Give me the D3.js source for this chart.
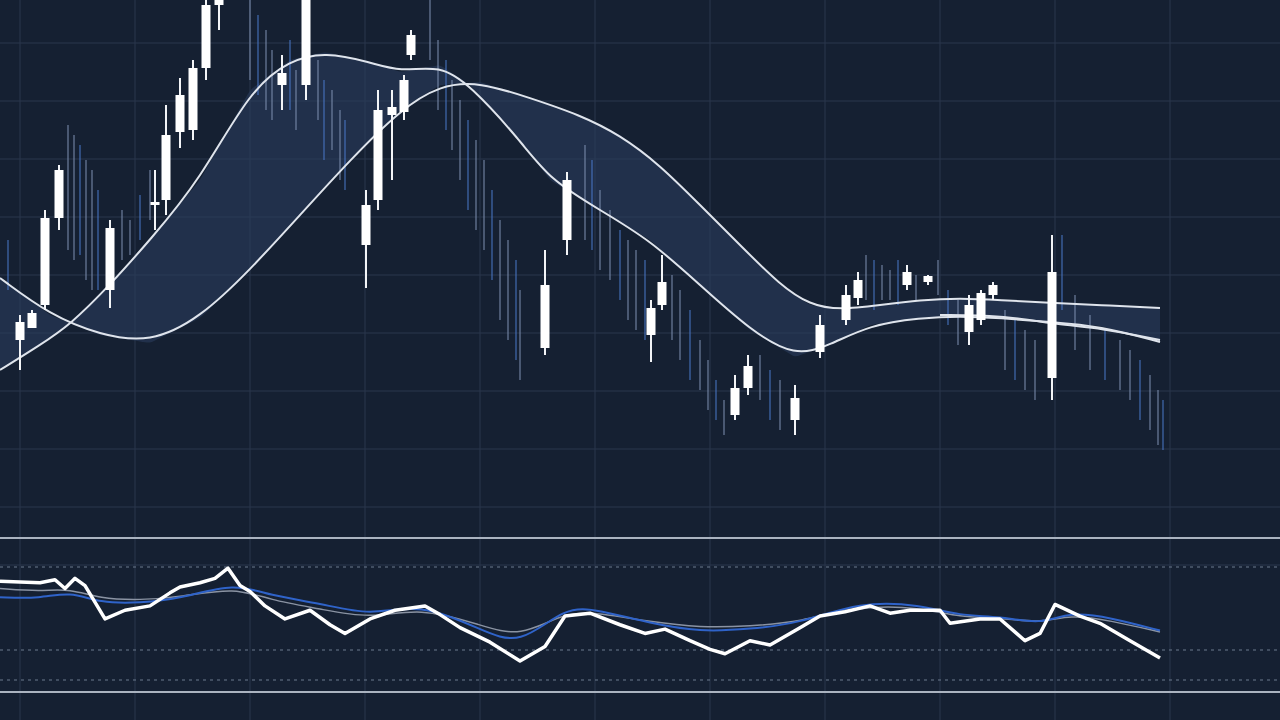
<!DOCTYPE html>
<html><head><meta charset="utf-8">
<script src="https://cdn.jsdelivr.net/npm/d3@7"></script>
<style>body{margin:0;background:#152032;overflow:hidden}</style></head>
<body><svg id="c" width="1280" height="720"></svg>
<script>
// Price units: 0 (bottom of main panel) .. 540 (top)
// White candles: [index-position, open, close, high, low]
const candleX = [20,32,45,59,110,155,166,180,193,206,219,282,306,366,378,392,404,411,545,567,651,662,735,748,795,820,846,858,907,928,969,981,993,1052];
const candleOpen = [200,212,235,322,250,338,340,408,410,472,535,455,455,295,340,425,428,485,192,300,205,235,125,152,120,188,220,242,255,258,208,220,245,162];
const candleClose= [218,227,322,370,312,338,405,445,472,535,540,467,540,335,430,433,460,505,255,360,232,258,152,174,142,215,245,260,268,264,235,247,255,268];
const candleHigh = [225,230,330,375,320,370,435,462,480,540,540,485,540,350,450,450,465,510,290,368,240,285,165,185,155,225,255,268,275,265,245,250,258,305];
const candleLow  = [170,215,230,310,232,310,325,392,400,460,510,430,440,252,330,360,420,480,185,285,178,230,120,145,105,182,215,235,250,255,195,215,240,140];
// Thin blue tick wicks: x, high, low
const tickX = [8,68,74,80,86,92,98,122,130,140,150,250,258,266,272,290,296,318,324,332,340,345,430,438,446,452,460,468,476,484,492,500,508,516,520,585,592,600,610,620,628,636,645,672,680,690,700,708,716,724,760,770,780,866,874,882,890,898,916,938,948,958,1005,1015,1025,1035,1062,1075,1090,1105,1120,1130,1140,1150,1158,1163];
const tickHi = [300,415,405,395,380,370,350,330,320,345,370,540,525,510,490,500,470,480,460,450,430,420,540,500,480,460,440,420,400,380,350,320,300,280,250,395,380,350,330,310,300,290,280,265,250,230,200,180,160,140,185,170,160,285,280,275,270,280,265,280,250,240,230,220,210,200,305,245,225,210,200,190,180,165,150,140];
const tickLo = [250,290,280,285,260,250,250,280,285,300,320,460,445,430,420,430,410,420,380,390,360,350,480,430,410,390,360,330,310,290,260,220,200,180,160,300,290,270,260,240,220,210,200,200,180,160,150,130,120,105,140,120,110,240,230,240,240,235,240,245,215,195,170,160,150,140,230,190,170,160,150,140,120,110,95,90];
// Moving averages: x, value
const maFastX = [0,40,70,110,150,200,250,290,325,370,400,440,470,520,550,600,650,700,750,795,830,870,920,960,1000,1050,1100,1160];
const maFastV = [170,195,215,255,300,360,450,480,488,478,468,475,455,400,360,330,300,255,210,183,195,215,222,224,222,218,214,198];
const maSlowX = [0,50,100,150,200,250,300,350,400,440,480,530,580,620,660,700,740,780,810,840,880,920,960,1000,1050,1100,1160];
const maSlowV = [262,225,205,197,222,270,325,380,430,455,458,442,425,405,375,335,295,255,235,230,235,240,242,240,237,235,232];
const ma3X = [940,1000,1060,1100,1160];
const ma3V = [225,225,215,212,200];
// Oscillator (0..100)
const oscX = [0,40,55,65,75,85,105,125,150,170,180,200,215,228,240,250,265,285,310,330,345,370,395,425,440,460,490,520,545,565,590,620,645,665,690,710,725,750,770,800,820,845,870,890,910,940,950,980,1000,1025,1040,1055,1080,1100,1130,1160];
const oscV = [75,74,76,70,77,72,49,55,58,67,71,74,77,84,72,68,58,49,55,45,39,49,55,58,52,43,33,20,30,51,53,45,39,42,34,28,25,34,31,43,51,54,58,53,55,55,46,49,49,34,39,59,51,46,34,22];
const sigX = [0,40,70,100,140,180,235,270,320,370,420,480,520,565,600,650,700,750,800,860,920,960,1000,1040,1070,1110,1160];
const sigV = [64,63,68,60,60,63,74,65,60,51,60,42,30,58,55,46,40,42,46,61,59,51,51,45,54,50,41];
const sig2V = [70,68,70,63,62,64,71,62,56,49,57,45,36,54,53,47,43,44,47,58,57,50,50,46,52,48,40];

const svg = d3.select('#c');
const y = d3.scaleLinear().domain([0,540]).range([540,0]);
const x = d3.scaleLinear().domain([0,1280]).range([0,1280]);
const yo = d3.scaleLinear().domain([0,100]).range([690,545]);

svg.append('rect').attr('width',1280).attr('height',720).attr('fill','#152032');
// grid
const g = svg.append('g').attr('stroke','#2a374d').attr('stroke-width',1);
d3.range(20,1280,115).forEach(v=>g.append('line').attr('x1',x(v)).attr('x2',x(v)).attr('y1',0).attr('y2',720));
d3.range(0,540,58).forEach(v=>g.append('line').attr('x1',0).attr('x2',1280).attr('y1',y(v)+25).attr('y2',y(v)+25));
[567,650,680].forEach(v=>svg.append('line').attr('x1',0).attr('x2',1280).attr('y1',v).attr('y2',v).attr('stroke','#6d7a8e').attr('stroke-dasharray','3,4'));
[538,692].forEach(v=>svg.append('line').attr('x1',0).attr('x2',1280).attr('y1',v).attr('y2',v).attr('stroke','#aab3c0').attr('stroke-width',2));

// band fill
const fastI = d3.scaleLinear().domain(maFastX).range(maFastV);
const slowI = d3.scaleLinear().domain(maSlowX).range(maSlowV);
const xs = d3.range(0,1161,5);
svg.append('path').datum(xs).attr('fill','#2a3c5c').attr('opacity',0.6)
  .attr('d',d3.area().x(d=>x(d)).y0(d=>y(fastI(d))).y1(d=>y(slowI(d))).curve(d3.curveBasis));

// blue ticks
svg.append('g').selectAll('line').data(tickX).join('line')
  .attr('x1',d=>x(d)).attr('x2',d=>x(d)).attr('y1',(d,i)=>y(tickHi[i])).attr('y2',(d,i)=>y(tickLo[i]))
  .attr('stroke',(d,i)=>i%3===0?'#4a78c8':'#7d8fb0').attr('stroke-width',1.2).attr('opacity',0.85);

// MA lines
const ln = d3.line().x(d=>x(d[0])).y(d=>y(d[1])).curve(d3.curveBasis);
[[maFastX,maFastV],[maSlowX,maSlowV],[ma3X,ma3V]].forEach(([a,b])=>
  svg.append('path').datum(a.map((v,i)=>[v,b[i]])).attr('d',ln).attr('fill','none').attr('stroke','#dfe4ec').attr('stroke-width',2));

// candles
const cg = svg.append('g');
candleX.forEach((cx,i)=>{
  cg.append('line').attr('x1',x(cx)).attr('x2',x(cx)).attr('y1',y(candleHigh[i])).attr('y2',y(candleLow[i])).attr('stroke','#f2f4f7').attr('stroke-width',2);
  const t=Math.max(candleOpen[i],candleClose[i]), b=Math.min(candleOpen[i],candleClose[i]);
  cg.append('rect').attr('x',x(cx)-4.5).attr('width',9).attr('y',y(t)).attr('height',Math.max(3,y(b)-y(t))).attr('fill','#ffffff');
});

// oscillator
const lo = d3.line().x(d=>x(d[0])).y(d=>yo(d[1]));
svg.append('path').datum(sigX.map((v,i)=>[v,sig2V[i]])).attr('d',lo.curve(d3.curveBasis)).attr('fill','none').attr('stroke','#8a93a3').attr('stroke-width',1.5);
svg.append('path').datum(sigX.map((v,i)=>[v,sigV[i]])).attr('d',lo.curve(d3.curveBasis)).attr('fill','none').attr('stroke','#2f63c9').attr('stroke-width',2);
svg.append('path').datum(oscX.map((v,i)=>[v,oscV[i]])).attr('d',d3.line().x(d=>x(d[0])).y(d=>yo(d[1]))).attr('fill','none').attr('stroke','#ffffff').attr('stroke-width',3.5).attr('stroke-linejoin','round');
</script></body></html>
